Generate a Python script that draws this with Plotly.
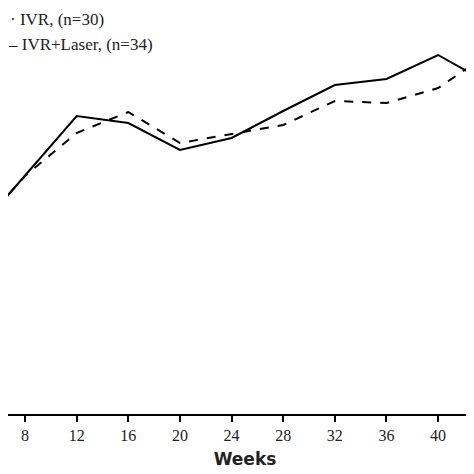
import plotly.graph_objects as go

weeks = [4, 8, 12, 16, 20, 24, 28, 32, 36, 40, 44]
ivr = [8.95, 11.95, 14.9, 14.55, 13.2, 13.8, 15.15, 16.45, 16.75, 17.95, 16.5]
ivr_laser = [9.0, 11.9, 14.05, 15.1, 13.55, 14.0, 14.45, 15.65, 15.55, 16.3, 18.05]
tick_vals = [8, 12, 16, 20, 24, 28, 32, 36, 40]

fig = go.Figure()
fig.add_trace(go.Scatter(x=weeks, y=ivr, mode="lines", name="IVR, (n=30)",
                         line=dict(color="black", width=2)))
fig.add_trace(go.Scatter(x=weeks, y=ivr_laser, mode="lines", name="IVR+Laser, (n=34)",
                         line=dict(color="black", width=2, dash="dash")))

fig.update_layout(
    width=474, height=474,
    margin=dict(l=0, r=0, t=0, b=68, autoexpand=False),
    plot_bgcolor="white", paper_bgcolor="white",
    showlegend=False,
    font=dict(family="Liberation Serif", color="#222"),
    xaxis=dict(range=[6.68, 43.4], tickvals=tick_vals, showgrid=False, zeroline=False,
               automargin=False,
               showline=True, linecolor="black", linewidth=2,
               ticks="outside", ticklen=6, tickwidth=2, tickcolor="black",
               tickfont=dict(size=16, family="Liberation Serif"),
               title=dict(text="<b>Weeks</b>", font=dict(size=17, family="DejaVu Sans"), standoff=10)),
    yaxis=dict(range=[0, 20.3], visible=False),
)

fig.add_annotation(text="· IVR, (n=30)", xref="paper", yref="paper", x=0.0, y=1.0,
                   xanchor="left", yanchor="top", yshift=0, showarrow=False,
                   font=dict(size=17, family="Liberation Serif", color="#222"))
fig.add_annotation(text="– IVR+Laser, (n=34)", xref="paper", yref="paper", x=-0.005, y=1.0,
                   xanchor="left", yanchor="top", yshift=-25, showarrow=False,
                   font=dict(size=17, family="Liberation Serif", color="#222"))

fig.write_html("out.html")
